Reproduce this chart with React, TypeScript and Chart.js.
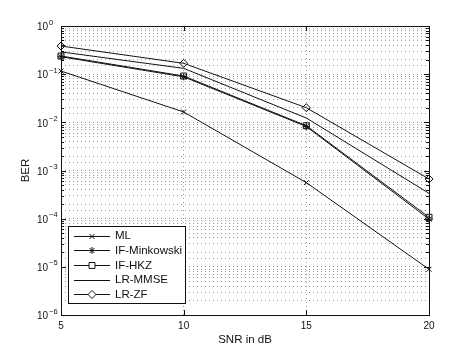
import React, { useEffect, useRef } from "react";
import { Chart, registerables } from "chart.js";
import { drawPoint } from "chart.js/helpers";

Chart.register(...registerables);

const snrDb = [5, 10, 15, 20];
const berML = [0.116, 0.0164, 5.6e-4, 8.9e-6];
const berIFMinkowski = [0.23, 0.088, 0.0082, 9.8e-5];
const berIFHKZ = [0.238, 0.0916, 0.0085, 1.07e-4];
const berLRMMSE = [0.29, 0.132, 0.0123, 3.36e-4];
const berLRZF = [0.384, 0.168, 0.0201, 6.67e-4];
const seriesNames = ["ML", "IF-Minkowski", "IF-HKZ", "LR-MMSE", "LR-ZF"];
const xTickValues = [5, 10, 15, 20];
const yDecadeExponents = [0, -1, -2, -3, -4, -5, -6];

const FONT = "'Liberation Sans', Arial, Helvetica, sans-serif";
const INK = "#111";
const GRID = "#9a9a9a";

const styles: { pointStyle: any; radius: number }[] = [
  { pointStyle: "crossRot", radius: 3.5 },
  { pointStyle: "star", radius: 3.5 },
  { pointStyle: "rect", radius: 4.2 },
  { pointStyle: false, radius: 0 },
  { pointStyle: "rectRot", radius: 4 },
];

const seriesValues = [berML, berIFMinkowski, berIFHKZ, berLRMMSE, berLRZF];

const frame = {
  id: "matlabFrame",
  afterDatasetsDraw(chart: any) {
    const { ctx, chartArea } = chart;
    const { left, right, top, bottom } = chartArea;
    const ys = chart.scales.y;
    const xs = chart.scales.x;
    ctx.save();
    ctx.strokeStyle = INK;
    ctx.lineWidth = 1;
    // box
    ctx.strokeRect(Math.round(left) + 0.5, Math.round(top) + 0.5, Math.round(right - left), Math.round(bottom - top));
    // y ticks
    ctx.beginPath();
    for (const e of yDecadeExponents) {
      for (let m = 1; m <= 9; m++) {
        const v = m * Math.pow(10, e);
        if (v > 1.0000001) continue;
        if (e === -6 && m > 1) continue;
        const py = Math.round(ys.getPixelForValue(v)) + 0.5;
        const len = m === 1 ? 5 : 3;
        ctx.moveTo(left, py);
        ctx.lineTo(left + len, py);
        ctx.moveTo(right, py);
        ctx.lineTo(right - len, py);
      }
    }
    for (const t of xTickValues) {
      const px = Math.round(xs.getPixelForValue(t)) + 0.5;
      ctx.moveTo(px, bottom);
      ctx.lineTo(px, bottom - 5);
      ctx.moveTo(px, top);
      ctx.lineTo(px, top + 5);
    }
    ctx.stroke();

    // y tick labels 10^e
    ctx.fillStyle = INK;
    ctx.textAlign = "left";
    ctx.textBaseline = "middle";
    for (const e of yDecadeExponents) {
      const py = ys.getPixelForValue(Math.pow(10, e));
      ctx.font = `10px ${FONT}`;
      ctx.fillText("10", 37, py + 1.5);
      ctx.font = `7.5px ${FONT}`;
      ctx.fillText(e === 0 ? "0" : "\u2212" + String(-e), 49, py - 3.5);
    }

    // legend
    const bx = 68, by = 226, bw = 117, bh = 77;
    ctx.fillStyle = "#fff";
    ctx.fillRect(bx, by, bw, bh);
    ctx.strokeStyle = INK;
    ctx.strokeRect(bx + 0.5, by + 0.5, bw, bh);
    ctx.font = `11.5px ${FONT}`;
    ctx.textBaseline = "middle";
    seriesNames.forEach((name, i) => {
      const ry = by + 9.5 + i * 14.7;
      ctx.strokeStyle = INK;
      ctx.lineWidth = 1;
      ctx.beginPath();
      ctx.moveTo(74, Math.round(ry) + 0.5);
      ctx.lineTo(110, Math.round(ry) + 0.5);
      ctx.stroke();
      const st = styles[i];
      if (st.pointStyle) {
        ctx.fillStyle = "#fff";
        drawPoint(ctx, { pointStyle: st.pointStyle, radius: st.radius, rotation: 0, borderWidth: 1 } as any, 92, Math.round(ry) + 0.5);
      }
      ctx.fillStyle = INK;
      ctx.fillText(name, 115, ry + 0.5);
    });
    ctx.restore();
  },
};

export default function App() {
  const ref = useRef<HTMLCanvasElement | null>(null);
  useEffect(() => {
    if (!ref.current) return;
    const datasets = seriesNames.map((name, i) => ({
      label: name,
      data: snrDb.map((x, j) => ({ x, y: seriesValues[i][j] })),
      borderColor: INK,
      borderWidth: 1,
      backgroundColor: "rgba(0,0,0,0)",
      pointBackgroundColor: "rgba(0,0,0,0)",
      pointBorderColor: INK,
      pointBorderWidth: 1,
      pointStyle: styles[i].pointStyle,
      pointRadius: styles[i].radius,
      pointHoverRadius: styles[i].radius,
      tension: 0,
      clip: false as any,
    }));
    const chart = new Chart(ref.current, {
      type: "line",
      data: { datasets },
      plugins: [frame],
      options: {
        animation: false,
        responsive: false,
        events: [],
        layout: { padding: { left: 0, right: 45, top: 26, bottom: 0 } },
        plugins: { legend: { display: false }, tooltip: { enabled: false } },
        scales: {
          x: {
            type: "linear",
            min: 5,
            max: 20,
            afterBuildTicks: (s: any) => {
              s.ticks = xTickValues.map((v) => ({ value: v }));
            },
            afterFit: (s: any) => {
              s.height = 40;
            },
            ticks: { color: INK, padding: 5, font: { family: FONT, size: 10 }, autoSkip: false, maxRotation: 0 },
            grid: { color: GRID, drawTicks: false, lineWidth: 1 },
            border: { display: false, dash: [1, 3] },
            title: { display: true, text: "SNR in dB", color: INK, font: { family: FONT, size: 11.5 }, padding: { top: 0, bottom: 8 } },
          },
          y: {
            type: "logarithmic",
            min: 1e-6,
            max: 1,
            afterFit: (s: any) => {
              s.width = 61;
            },
            ticks: { display: false, autoSkip: false },
            grid: { color: GRID, drawTicks: false, lineWidth: 1 },
            border: { display: false, dash: [1, 3] },
            title: { display: true, text: "BER", color: INK, font: { family: FONT, size: 11.5 }, padding: { top: 19, bottom: 0 } },
          },
        },
      },
    });
    return () => chart.destroy();
  }, []);
  return (
    <div style={{ position: "fixed", left: 0, top: 0, width: 474, height: 355, background: "#fff" }}>
      <canvas ref={ref} width={474} height={355} style={{ width: 474, height: 355, display: "block" }} />
    </div>
  );
}
